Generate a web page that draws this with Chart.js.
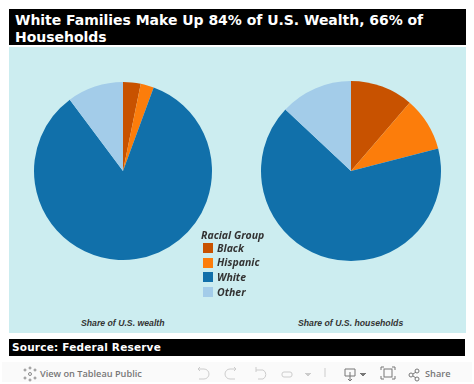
<!DOCTYPE html>
<html><head><meta charset="utf-8">
<script src="https://cdn.jsdelivr.net/npm/chart.js@4"></script>
<style>
html,body{margin:0;padding:0;background:#fff;width:474px;height:384px;overflow:hidden;font-family:"DejaVu Sans",sans-serif}
.abs{position:absolute}
#title{left:9px;top:9px;width:457px;height:36px;background:#000;color:#fff;font:bold 14px/17px "DejaVu Sans";letter-spacing:-.03px;padding:0;box-sizing:border-box}
#title span{position:absolute;left:6px;top:3px;width:445px}
#panel{left:9px;top:47px;width:457px;height:286px;background:#ccedf0}
#src{left:9px;top:339px;width:456px;height:17px;background:#000;color:#fff;font:bold 10.5px/17px "DejaVu Sans";letter-spacing:.2px;text-indent:3px}
canvas{position:absolute}
.cap{font:italic bold 8.7px/11px "Liberation Sans";color:#333;white-space:nowrap}
.leg{font:italic bold 10.5px/13px "Open Sans";color:#333;white-space:nowrap}
.sw{width:10px;height:10px}
#bar{left:2px;top:362px;width:470px;height:20px;background:#fafafa}
.tb{font:600 9.2px/14px "Open Sans";color:#777;white-space:nowrap}
svg{position:absolute}
</style></head><body>
<div id="title" class="abs"><span id="titleText"></span></div>
<div id="panel" class="abs"></div>
<canvas id="c1" width="210" height="210" style="left:18px;top:66px"></canvas>
<canvas id="c2" width="210" height="210" style="left:246px;top:66px"></canvas>
<div id="legend"></div>
<div class="abs cap" style="left:81px;top:318px" id="cap1"></div>
<div class="abs cap" style="left:298px;top:318px" id="cap2"></div>
<div id="src" class="abs"></div>
<div id="bar" class="abs"></div>
<div class="abs tb" style="left:40px;top:367px">View on Tableau Public</div>
<div class="abs tb" style="left:425px;top:367px">Share</div>
<svg width="474" height="384" style="left:0;top:0" fill="none" stroke="#999" stroke-width="1">
<g stroke="#888"><circle cx="30" cy="374" r="1.5"/><circle cx="25" cy="370" r="1"/><circle cx="35" cy="370" r="1"/><circle cx="25" cy="378" r="1"/><circle cx="35" cy="378" r="1"/><circle cx="30" cy="368" r="1"/><circle cx="30" cy="380" r="1"/></g>
<g stroke="#ccc"><path d="M198 369h6a5 5 0 0 1 0 10h-5M198 369l2-2M198 369l2 2"/><path d="M236 369h-6a5 5 0 0 0 0 10h5M236 369l-2-2M236 369l-2 2"/><path d="M256 370h7a5 5 0 0 1 0 9h-5M256 367v5"/><rect x="282" y="372" width="10" height="5" rx="2"/><path d="M305 373l3 3 3-3" fill="#ccc"/><path d="M325 368v9"/></g>
<g stroke="#777"><path d="M345 369h10v7h-10zM350 372v9M348 379l2 2 2-2"/><path d="M360 373l3 3 3-3" fill="#777"/><rect x="384" y="369" width="8" height="8"/><path d="M381 370v-3h3M392 367h3v3M395 376v3h-3M384 379h-3v-3"/><circle cx="411" cy="375" r="2"/><circle cx="417" cy="371" r="2"/><circle cx="417" cy="379" r="2"/><path d="M413 374l3-2M413 376l3 2"/></g>
</svg>
<script>
const titleLabel = "White Families Make Up 84% of U.S. Wealth, 66% of Households";
const sourceLabel = "Source: Federal Reserve";
const legendTitle = "Racial Group";
const categories = ["Black","Hispanic","White","Other"];
const sliceColors = ["#c85200","#fc7d0b","#1170aa","#a3cce9"];
const wealthShare = [3.2,2.4,84.2,10.2];
const householdShare = [11.3,9.7,66,13];
const captions = ["Share of U.S. wealth","Share of U.S. households"];
document.getElementById('titleText').textContent = titleLabel;
document.getElementById('src').textContent = sourceLabel;
document.getElementById('cap1').textContent = captions[0];
document.getElementById('cap2').textContent = captions[1];
const lg = document.getElementById('legend');
let h = '<div class="abs leg" style="left:201px;top:229px">'+legendTitle+'</div>';
categories.forEach((c,i)=>{
  const y = 243+i*14.67;
  h += '<div class="abs sw" style="left:203px;top:'+y+'px;background:'+sliceColors[i]+'"></div>';
  h += '<div class="abs leg" style="left:217px;top:'+(y-1.5)+'px">'+c+'</div>';
});
lg.innerHTML = h;
function pie(id,vals,r){
  new Chart(document.getElementById(id),{type:'pie',
    data:{labels:categories,datasets:[{data:vals,backgroundColor:sliceColors,borderWidth:0}]},
    options:{responsive:false,animation:false,radius:r,layout:{padding:0},
      plugins:{legend:{display:false},tooltip:{enabled:false},title:{display:false}}}});
}
pie('c1',wealthShare,89);
pie('c2',householdShare,90);
</script>
</body></html>
